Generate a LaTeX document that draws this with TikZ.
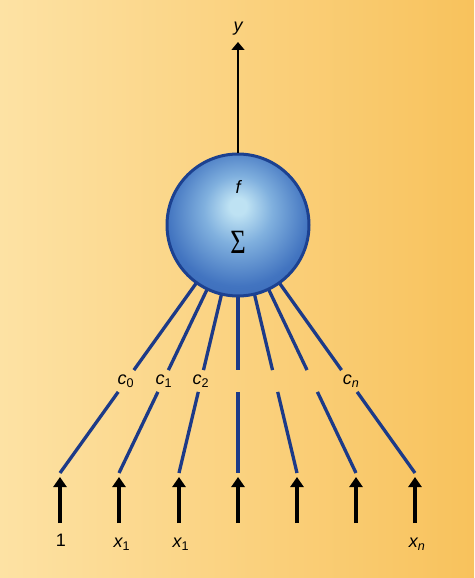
\documentclass[tikz,border=0pt]{standalone}
\usepackage{fontspec}
\setmainfont{Liberation Sans}
\newfontfamily\sigmafont{Liberation Serif}
\usetikzlibrary{arrows.meta,calc}
\definecolor{bgL}{HTML}{FDE2A4}
\definecolor{bgR}{HTML}{F8C25C}
\definecolor{sphC}{HTML}{BEE2F3}
\definecolor{sphA}{HTML}{80B0DE}
\definecolor{sphM}{HTML}{4274C0}
\definecolor{sphE}{HTML}{234EA2}
\definecolor{rim}{HTML}{1C4190}
\definecolor{wire}{HTML}{1C3A88}
\pgfdeclareradialshading{sphere}{\pgfpoint{0bp}{7bp}}{color(0bp)=(sphC); color(3bp)=(sphC); color(12bp)=(sphA); color(25bp)=(sphM); color(50bp)=(sphE)}
\tikzset{
  wireline/.style={draw=wire, line width=3.3pt},
  inarrow/.style={draw=black, line width=3.2pt, -{Triangle[width=13pt,length=10pt]}},
  outarrow/.style={draw=black, line width=1.4pt, -{Triangle[width=13pt,length=8pt]}},
  lbl/.style={font=\fontsize{18}{21}\selectfont, inner sep=0pt},
  neuron/.style={circle, minimum size=142pt, inner sep=0pt, draw=rim, line width=3pt, shading=sphere}
}
\begin{document}
\begin{tikzpicture}[x=1pt,y=-1pt]
\useasboundingbox (0,0) rectangle (474,578);
\shade[left color=bgL, right color=bgR] (0,0) rectangle (474,578);
\coordinate (C) at (238,225);
% inputs: bottom of wire (B), arrow tail (T), arrow tip (H)
\foreach \i/\x in {0/60,1/119,2/179,3/238,4/297,5/356,6/415}{
  \coordinate (B\i) at (\x,473);
  \coordinate (T\i) at (\x,523);
  \coordinate (H\i) at (\x,477);
  \draw[wireline] (C) -- ($(C)!0.585!(B\i)$);
  \draw[wireline] ($(C)!0.673!(B\i)$) -- (B\i);
  \draw[inarrow] (T\i) -- (H\i);
}
\node[neuron] (N) at (C) {};
\node[lbl] (f) at (238,187) {\itshape f};
\node[inner sep=0pt] (S) at (238,242) {\sigmafont\fontsize{34}{38}\selectfont\scalebox{0.78}[1]{Σ}};
\coordinate (Y) at (238,42);
\draw[outarrow] (N.north) -- (Y);
\node[lbl] (y) at (238,29) {\itshape y};
\node[lbl] (c0) at (126,381) {\itshape c\textsubscript{\upshape 0}};
\node[lbl] (c1) at (164,381) {\itshape c\textsubscript{\upshape 1}};
\node[lbl] (c2) at (201,381) {\itshape c\textsubscript{\upshape 2}};
\node[lbl] (cn) at (351,381) {\itshape c\textsubscript{n}};
\node[lbl] (x0) at (61,540) {1};
\node[lbl] (x1) at (122,544) {\itshape x\textsubscript{\upshape 1}};
\node[lbl] (x2) at (181,544) {\itshape x\textsubscript{\upshape 1}};
\node[lbl] (xn) at (417,544) {\itshape x\textsubscript{n}};
\end{tikzpicture}
\end{document}
